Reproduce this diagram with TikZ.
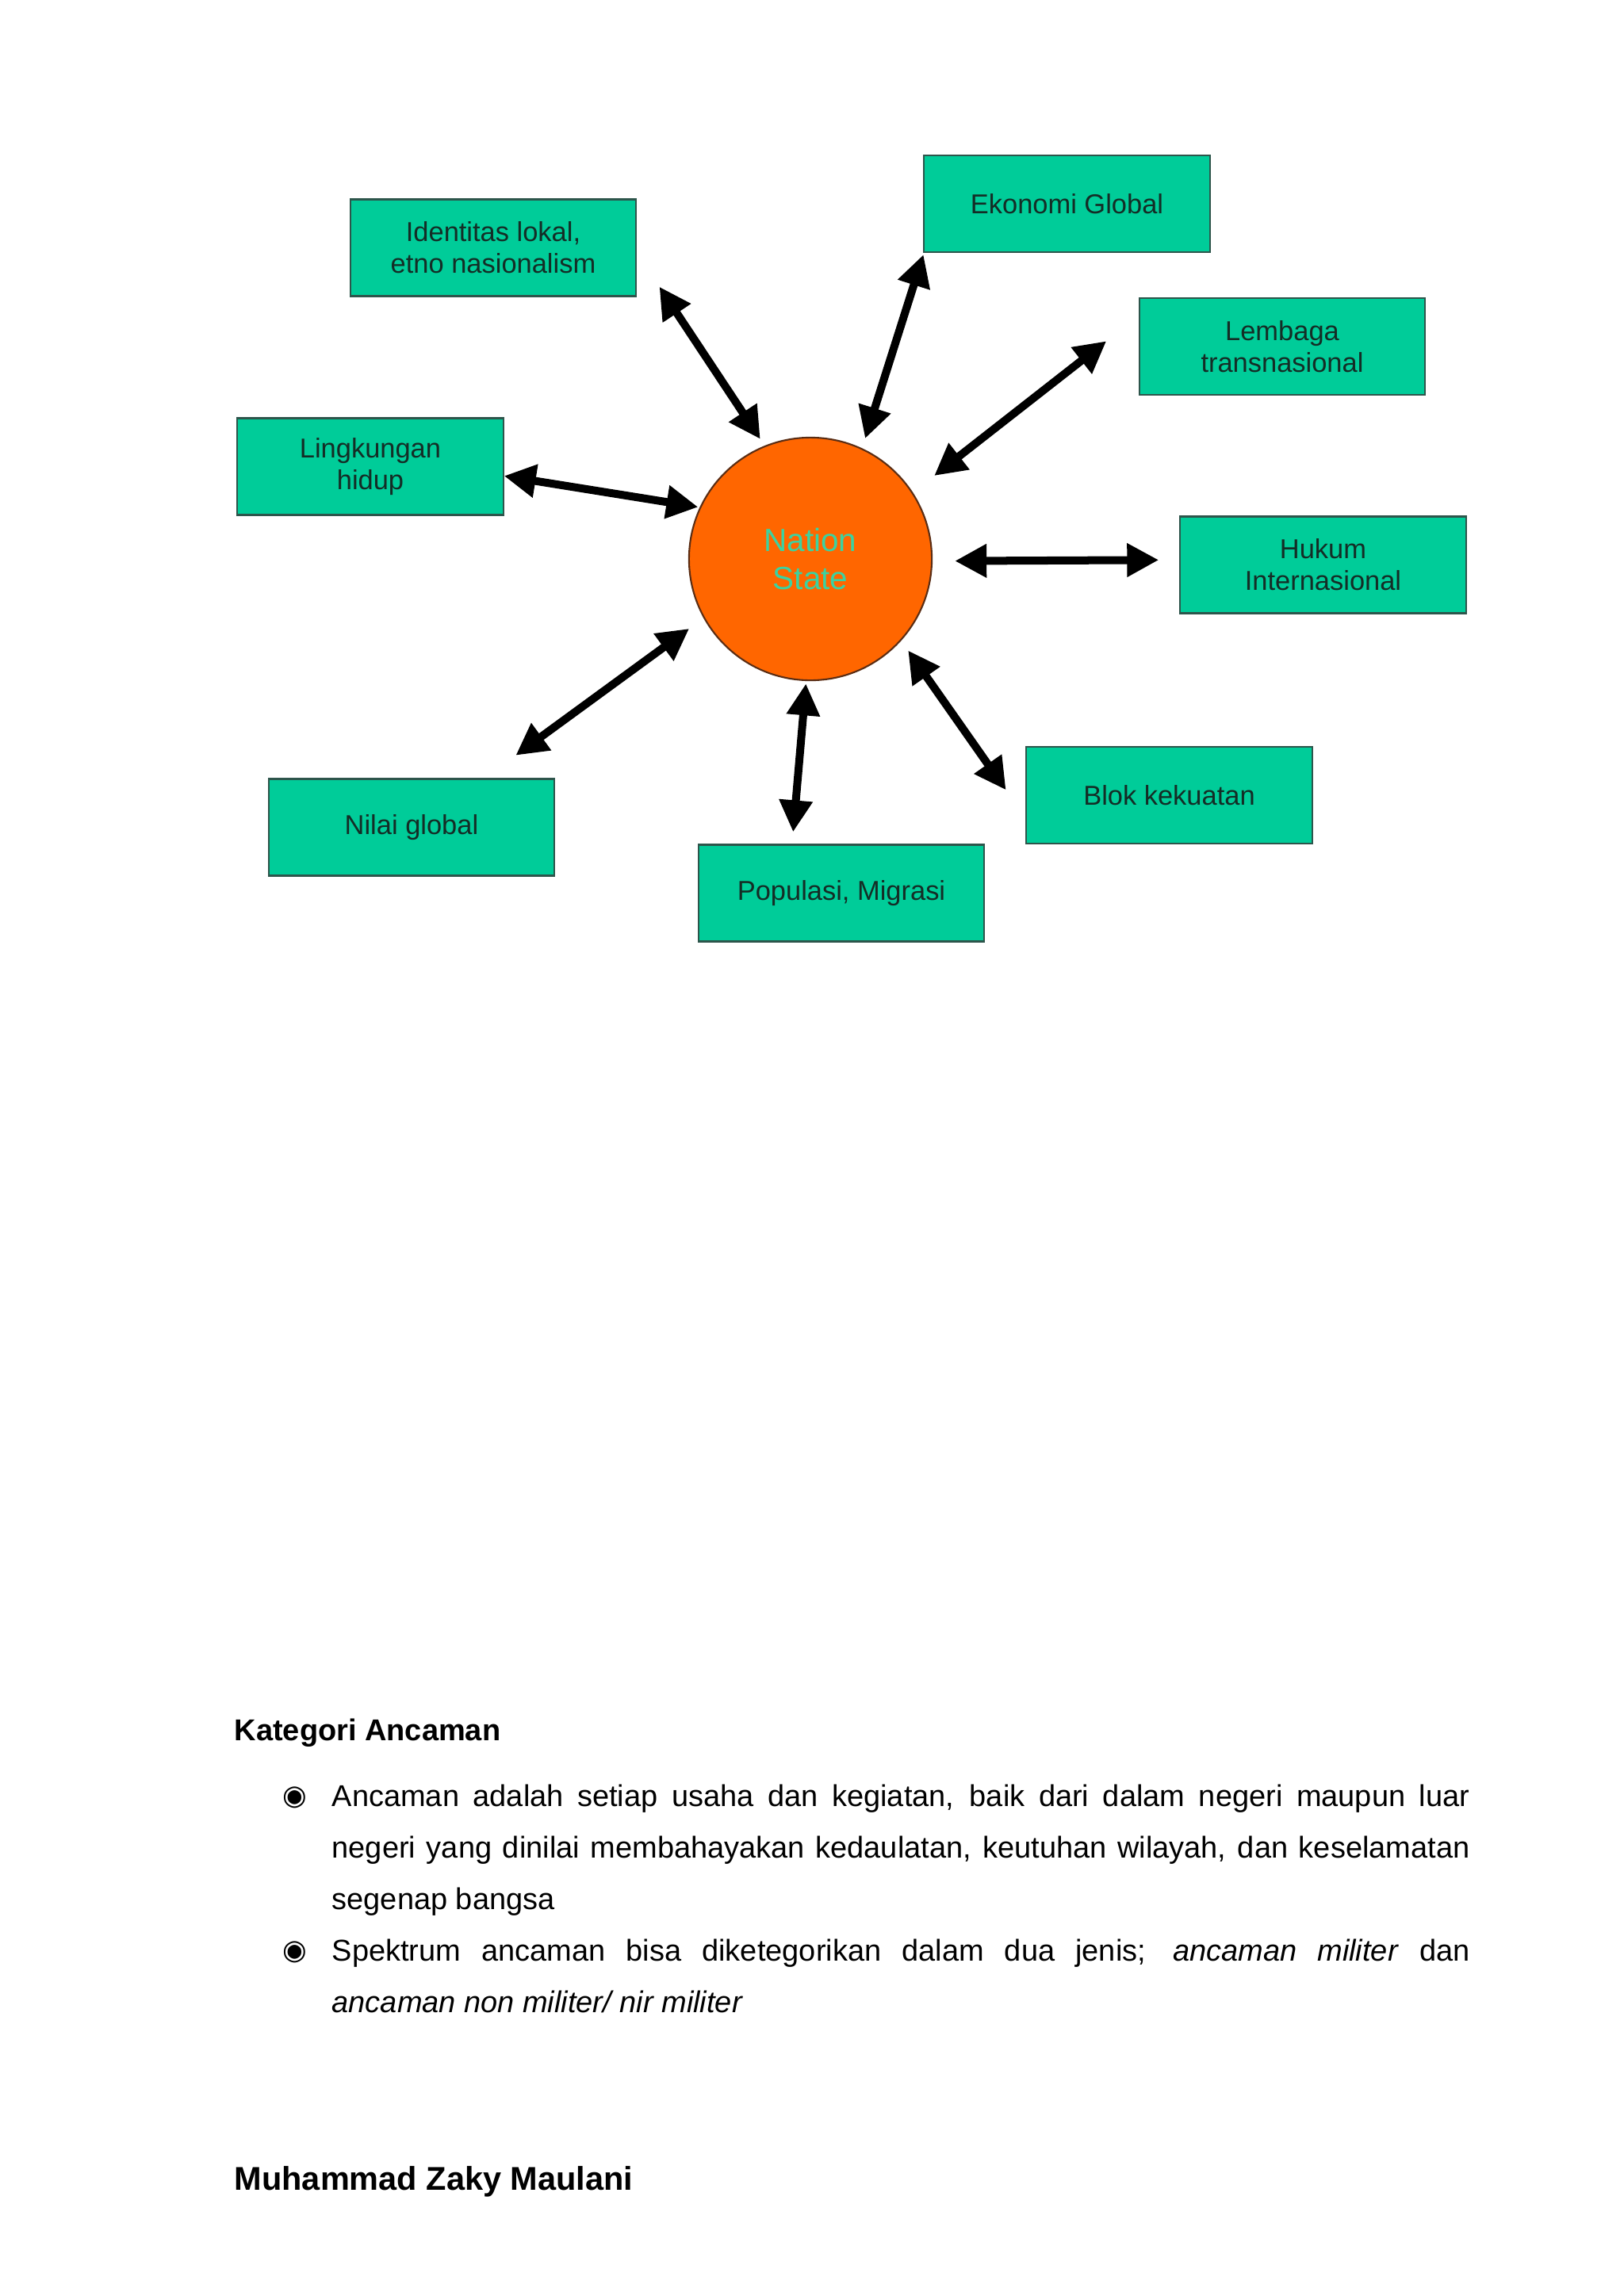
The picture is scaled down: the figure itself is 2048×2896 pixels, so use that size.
\documentclass[tikz,border=0pt]{standalone}
\usepackage{fontspec}
\setmainfont{Liberation Sans}
\newfontfamily\bulletfont{DejaVu Sans}
\usepackage{tikz}
\usetikzlibrary{arrows.meta}
\definecolor{boxgreen}{RGB}{0,204,153}
\definecolor{boxline}{RGB}{45,85,75}
\definecolor{boxtext}{RGB}{20,45,38}
\definecolor{nationorange}{RGB}{255,102,0}
\definecolor{nationline}{RGB}{90,45,20}
\definecolor{nationtext}{RGB}{60,210,160}

\begin{document}
\begin{tikzpicture}[x=0.01cm, y=-0.01cm,
				factor/.style={draw=boxline, line width=0.6pt, fill=boxgreen, text=boxtext, minimum width=36mm, minimum height=12.2mm, inner sep=0pt, align=center, font=\fontsize{9.8}{11.3}\selectfont},
				link/.style={line width=1mm, {Triangle[length=4mm,width=4mm]}-{Triangle[length=4mm,width=4mm]}},
				bodyline/.style={anchor=base west, inner sep=0pt, font=\fontsize{10.8}{12}\selectfont},
				bulletmark/.style={inner sep=0pt, font=\bulletfont\fontsize{10}{12}\selectfont}]
				\fill[white] (0, 0) rectangle (2048, 2896);
				\useasboundingbox (0, 0) rectangle (2048, 2896);

				% diagram
				\node[circle, draw=nationline, line width=0.6pt, fill=nationorange, minimum size=30.6mm, inner sep=0pt, text=nationtext, align=center, font=\fontsize{11.5}{13.6}\selectfont] (nation) at (1022, 705) {Nation\\State};
				\node[factor] (ident) at (622, 312.5) {Identitas lokal,\\etno nasionalism};
				\node[factor] (ekon) at (1345.5, 257) {Ekonomi Global};
				\node[factor] (lemb) at (1617, 437) {Lembaga\\transnasional};
				\node[factor, minimum width=33.5mm] (lingk) at (467, 588.5) {Lingkungan\\hidup};
				\node[factor] (hukum) at (1668.5, 712.5) {Hukum\\Internasional};
				\node[factor] (blok) at (1474.5, 1003) {Blok kekuatan};
				\node[factor] (nilai) at (519, 1043.5) {Nilai global};
				\node[factor] (popul) at (1061, 1126.5) {Populasi, Migrasi};

				\draw[link, shorten <=0.99mm, shorten >=5.13mm] (nation.112) -- (ident.-2);
				\draw[link, shorten <=1.27mm, shorten >=0.21mm] (nation.65) -- (ekon.-161);
				\draw[link, shorten <=3.4mm, shorten >=5.15mm] (nation.33) -- (lemb.168);
				\draw[link, shorten <=0.19mm] (nation.155) -- (lingk.-4);
				\draw[link, shorten <=2.8mm, shorten >=2.60mm] (nation.-1) -- (hukum.178);
				\draw[link, shorten <=2.23mm, shorten >=4.86mm] (nation.-151) -- (nilai.34);
				\draw[link, shorten <=0.32mm, shorten >=1.50mm] (nation.-92) -- (popul.135);
				\draw[link, shorten <=1.50mm, shorten >=4.30mm] (nation.-42) -- (blok.-171);

				% text below
				\node[anchor=base west, inner sep=0pt, font=\bfseries\fontsize{10.8}{12}\selectfont] (kategori) at (295, 2195) {Kategori Ancaman};
				\node[bulletmark] (b1) at (372, 2267) {◉};
				\node[bodyline] (l1) at (418, 2278) {\makebox[143.4mm][s]{Ancaman adalah setiap usaha dan kegiatan, baik dari dalam negeri maupun luar}};
				\node[bodyline] (l2) at (418, 2343) {\makebox[143.4mm][s]{negeri yang dinilai membahayakan kedaulatan, keutuhan wilayah, dan keselamatan}};
				\node[bodyline] (l3) at (418, 2408) {segenap bangsa};
				\node[bulletmark] (b2) at (372, 2462) {◉};
				\node[bodyline] (l4) at (418, 2473) {\makebox[143.4mm][s]{Spektrum ancaman bisa diketegorikan dalam dua jenis; \textit{ancaman militer} dan}};
				\node[bodyline] (l5) at (418, 2538) {\textit{ancaman non militer/ nir militer}};
				\node[anchor=base west, inner sep=0pt, font=\bfseries\fontsize{11.8}{14}\selectfont] (penulis) at (295, 2762) {Muhammad Zaky Maulani};
			\end{tikzpicture}
\end{document}
